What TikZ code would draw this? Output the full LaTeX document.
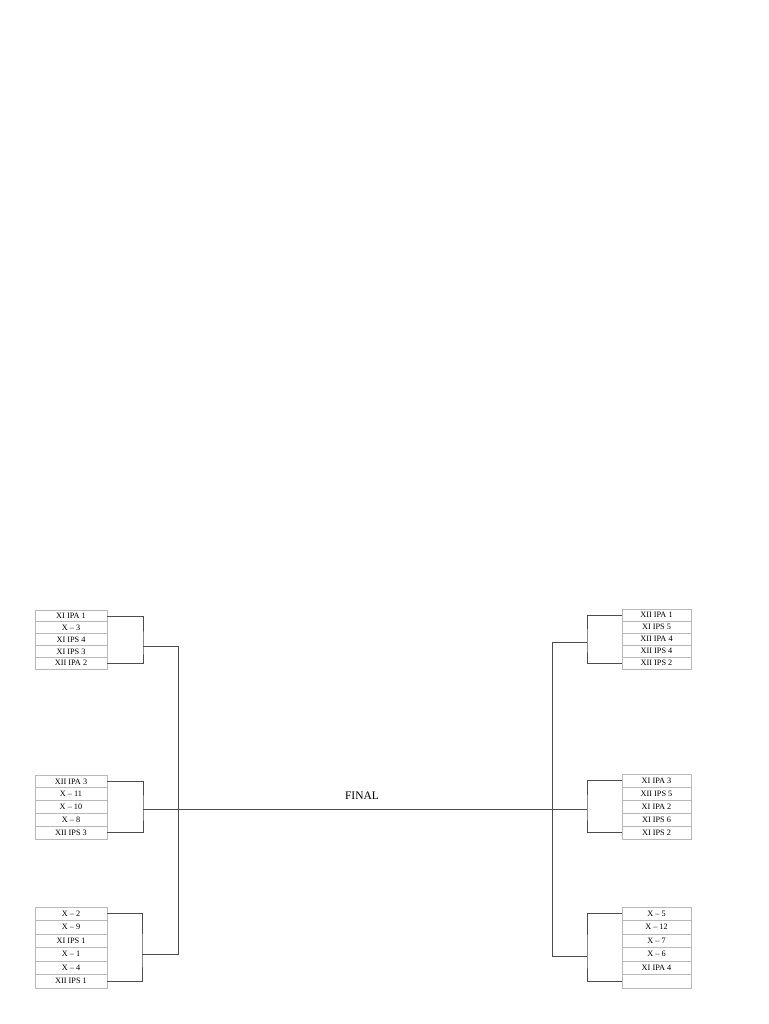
\documentclass[tikz,border=0pt]{standalone}
\usepackage{fontspec}
\setmainfont{Liberation Serif}
\begin{document}
\begin{tikzpicture}[x=0.75pt,y=-0.75pt,
    team/.style={draw=gray!55,line width=0.5pt,inner sep=0pt,font=\fontsize{6.2}{7}\selectfont},
    link/.style={draw=black!70,line width=0.55pt}]
  \useasboundingbox (0,0) rectangle (768,1024);
  % left side
  \foreach \t [count=\i] in {XI IPA 1,X -- 3,XI IPS 4,XI IPS 3,XII IPA 2}
    \node[team,minimum width=54pt,minimum height=8.85pt] (la\i) at (71,{610+(\i-0.5)*11.8}) {\t};
  \foreach \t [count=\i] in {XII IPA 3,X -- 11,X -- 10,X -- 8,XII IPS 3}
    \node[team,minimum width=54pt,minimum height=9.6pt] (lb\i) at (71,{775+(\i-0.5)*12.8}) {\t};
  \foreach \t [count=\i] in {X -- 2,X -- 9,XI IPS 1,X -- 1,X -- 4,XII IPS 1}
    \node[team,minimum width=54pt,minimum height=10.1pt] (lc\i) at (71,{907+(\i-0.5)*13.5}) {\t};
  % right side
  \foreach \t [count=\i] in {XII IPA 1,XI IPS 5,XII IPA 4,XII IPS 4,XII IPS 2}
    \node[team,minimum width=51.75pt,minimum height=9pt] (ra\i) at (656.5,{609+(\i-0.5)*12}) {\t};
  \foreach \t [count=\i] in {XI IPA 3,XII IPS 5,XI IPA 2,XI IPS 6,XI IPS 2}
    \node[team,minimum width=51.75pt,minimum height=9.75pt] (rb\i) at (656.5,{774+(\i-0.5)*13}) {\t};
  \foreach \t [count=\i] in {X -- 5,X -- 12,X -- 7,X -- 6,XI IPA 4,{}}
    \node[team,minimum width=51.75pt,minimum height=10.1pt] (rc\i) at (656.5,{907+(\i-0.5)*13.5}) {\t};
  % bracket points
  \coordinate (lam) at (143,646);
  \coordinate (lbm) at (143,809);
  \coordinate (lcm) at (142,954);
  \coordinate (lsa) at (178,646);
  \coordinate (lsc) at (178,954);
  \coordinate (ram) at (587,642);
  \coordinate (rbm) at (587,809);
  \coordinate (rcm) at (587,956);
  \coordinate (rsa) at (552,642);
  \coordinate (rsc) at (552,956);
  % brackets
  \draw[link] (la1.east) -| (lam) |- (la5.east);
  \draw[link] (lb1.east) -| (lbm) |- (lb5.east);
  \draw[link] (lc1.east) -| (lcm) |- (lc6.east);
  \draw[link] (ra1.west) -| (ram) |- (ra5.west);
  \draw[link] (rb1.west) -| (rbm) |- (rb5.west);
  \draw[link] (rc1.west) -| (rcm) |- (rc6.west);
  \draw[link] (lam) -- (lsa) -- (lsc) -- (lcm);
  \draw[link] (ram) -- (rsa) -- (rsc) -- (rcm);
  % final
  \draw[link] (lbm) -- (rbm);
  \node[font=\fontsize{8.6}{10}\selectfont] (final) at (362,796) {FINAL};
\end{tikzpicture}
\end{document}
